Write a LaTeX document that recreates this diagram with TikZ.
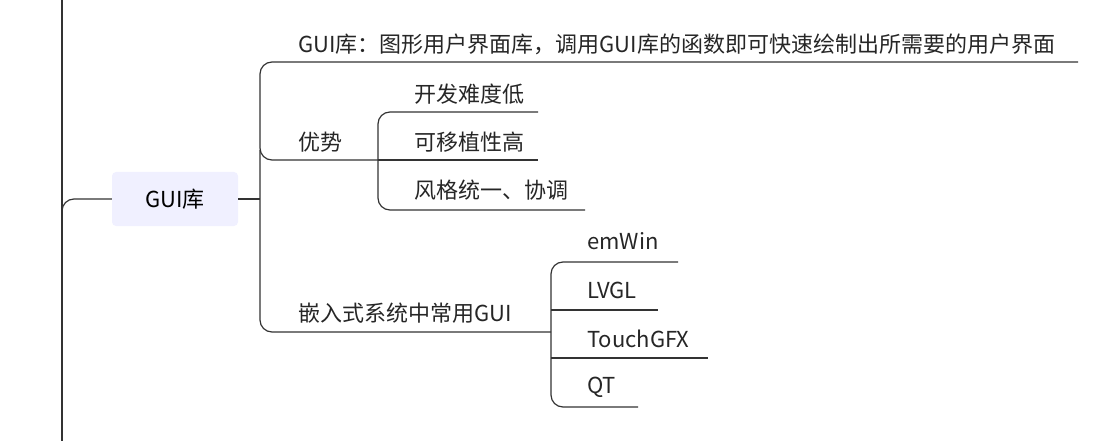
\documentclass[tikz,border=0pt]{standalone}
\usepackage{fontspec}
\setmainfont{Noto Sans CJK SC}
\begin{document}
\begin{tikzpicture}[x=1pt,y=-1pt,
  ln/.style={draw=black!80,line width=1.2pt,rounded corners=12pt},
  t/.style={anchor=west,font=\fontsize{22}{26}\selectfont,text=black!85,inner sep=0pt}]
\useasboundingbox (0,0) rectangle (1093,441);
\draw[ln] (62,0) -- (62,441);
\node[fill=blue!6,rounded corners=4pt,minimum width=126pt,minimum height=54pt,font=\fontsize{22}{26}\selectfont] (root) at (175,199) {GUI库};
\draw[ln] (62,240) -- (62,199) -- (root.west);
% main spine
\draw[ln] (root.east) -- (260,199);
\node[t] (a) at (298,44) {GUI库：图形用户界面库，调用GUI库的函数即可快速绘制出所需要的用户界面};
\node[t] (b) at (298,142) {优势};
\node[t] (c) at (298,313) {嵌入式系统中常用GUI};
\coordinate (ae) at (1078,62);
\coordinate (ce) at (551,332);
\coordinate (be) at (378,160);
\draw[ln] (ae) -- (260,62) -- (260,160) -- (be);
\draw[ln] (260,150) -- (260,332) -- (ce);
% advantages
\node[t] (b1) at (414,94) {开发难度低};
\node[t] (b2) at (414,142) {可移植性高};
\node[t] (b3) at (414,190) {风格统一、协调};
\draw[ln] (538,112) -- (378,112) -- (378,210) -- (585,210);
\draw[ln] (378,160) -- (538,160);
% GUIs
\node[t] (c1) at (587,241) {emWin};
\node[t] (c2) at (587,290) {LVGL};
\node[t] (c3) at (587,339) {TouchGFX};
\node[t] (c4) at (587,387) {QT};
\draw[ln] (678,262) -- (551,262) -- (551,407) -- (638,407);
\draw[ln] (551,310) -- (658,310);
\draw[ln] (551,358) -- (708,358);
\end{tikzpicture}
\end{document}
